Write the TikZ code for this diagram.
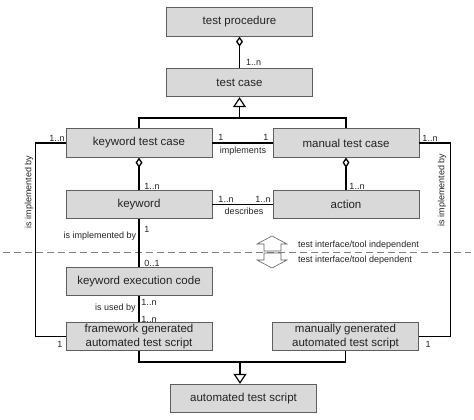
\documentclass[tikz,border=0pt]{standalone}
\usepackage{fontspec}
\setmainfont{Liberation Sans}
\usetikzlibrary{arrows.meta}
\definecolor{boxfill}{RGB}{217,217,217}
\definecolor{boxline}{RGB}{95,95,95}
\definecolor{txt}{RGB}{35,35,35}
\begin{document}
\begin{tikzpicture}[x=1pt,y=-1pt,
  box/.style={draw=boxline, line width=0.8pt, fill=boxfill, minimum width=146pt, minimum height=28.5pt, inner sep=0pt, align=center, font=\fontsize{11.5}{14}\selectfont, text=txt},
  conn/.style={line width=1.6pt, black},
  agg/.style={conn, {Diamond[open, length=10pt, width=7pt, line width=1.3pt]}-},
  gen/.style={conn, -{Triangle[open, length=10pt, width=13pt, line width=1.2pt]}},
  lbl/.style={font=\fontsize{9}{10}\selectfont, text=txt, inner sep=0pt},
  hollow/.style={draw=boxline, line width=0.6pt, fill=white}
]
\useasboundingbox (0,0) rectangle (474,420);

\node[box] (tp)  at (239.5,22)   {test procedure};
\node[box] (tc)  at (239.5,82.5) {test case};
\node[box] (ktc) at (139,143)    {keyword test case};
\node[box] (mtc) at (346,143)    {manual test case};
\node[box] (kw)  at (139,204.5)  {keyword};
\node[box] (act) at (346,204.5)  {action};
\node[box] (kec) at (139,281.5)  {keyword execution code};
\node[box] (fgs) at (139,336.5)  {framework generated\\automated test script};
\node[box] (mgs) at (345.5,336.5){manually generated\\automated test script};
\node[box] (ats) at (243.5,398.5){automated test script};

% dashed separator
\coordinate (dl) at (3,252);
\coordinate (dr) at (471,252);
\draw[gray, line width=0.8pt, dash pattern=on 7pt off 4pt] (dl) -- (dr);

% aggregation test procedure - test case
\draw[agg] (tp.south) -- (tc.north);
\node[lbl, anchor=west] (l1) at (246,62) {1..n};

% generalization to test case
\coordinate (g1) at (239.5,118);
\draw[conn] (ktc.north) |- (g1) -| (mtc.north);
\draw[gen] (g1) -- (tc.south);

% implements
\draw[conn] (ktc.east) -- (mtc.west);
\node[lbl] (l2) at (221,137) {1};
\node[lbl] (l3) at (266,137) {1};
\node[lbl] (l4) at (243,151) {implements};

% aggregations to keyword / action
\draw[agg] (ktc.south) -- (kw.north);
\node[lbl] (l5) at (152,186) {1..n};
\draw[agg] (mtc.south) -- (act.north);
\node[lbl] (l6) at (357,186) {1..n};

% describes
\draw[conn] (kw.east) -- (act.west);
\node[lbl] (l7) at (226,199.5) {1..n};
\node[lbl] (l8) at (263,199.5) {1..n};
\node[lbl] (l9) at (244,211) {describes};

% keyword -> keyword execution code
\draw[conn] (kw.south) -- (kec.north);
\node[lbl] (l10) at (147,229) {1};
\node[lbl] (l11) at (100,236) {is implemented by};
\node[lbl] (l12) at (152,263) {0..1};

% keyword execution code -> framework script
\draw[conn] (kec.south) -- (fgs.north);
\node[lbl] (l13) at (149,302) {1..n};
\node[lbl] (l14) at (115.5,308) {is used by};
\node[lbl] (l15) at (149,319) {1..n};

% left loop
\draw[conn] (ktc.west) -- ++(-30,0) |- (fgs.west);
\node[lbl] (l16) at (57,138) {1..n};
\node[lbl] (l17) at (60,344) {1};
\node[lbl, rotate=90] (l18) at (29,192) {is implemented by};

% right loop
\draw[conn] (mtc.east) -- ++(31,0) |- (mgs.east);
\node[lbl] (l19) at (430,138) {1..n};
\node[lbl] (l20) at (428,344) {1};
\node[lbl, rotate=90] (l21) at (442,190) {is implemented by};

% generalization to automated test script
\coordinate (g2) at (240,362);
\draw[conn] (fgs.south) |- (g2) -| (mgs.south);
\draw[gen] (g2) -- (g2 |- ats.north);

% hollow arrows
\draw[hollow] (272,236) -- (287,244) -- (281,244) -- (281,251) -- (264,251) -- (264,244) -- (257,244) -- cycle;
\draw[hollow] (264,253) -- (281,253) -- (281,260) -- (287,260) -- (272,268) -- (257,260) -- (264,260) -- cycle;
\node[lbl, anchor=west] (l22) at (298,245) {test interface/tool independent};
\node[lbl, anchor=west] (l23) at (298,260) {test interface/tool dependent};
\end{tikzpicture}
\end{document}
